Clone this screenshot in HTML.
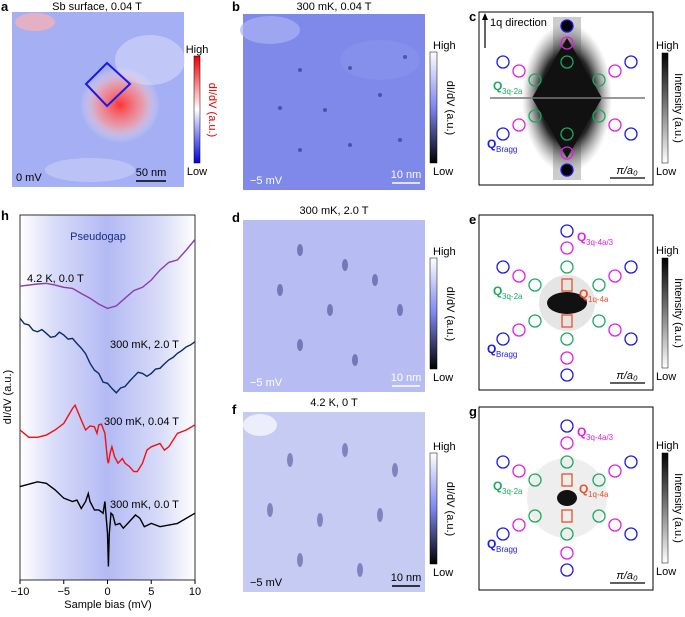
<!DOCTYPE html>
<html><head><meta charset="utf-8"><style>
body{margin:0;background:#fff;width:685px;height:612px;overflow:hidden;font-family:"Liberation Sans",sans-serif}
svg text{font-family:"Liberation Sans",sans-serif}
</style></head><body>
<svg id="fig" width="685" height="612" viewBox="0 0 685 612" xmlns="http://www.w3.org/2000/svg">
<defs>
<linearGradient id="cbRWB" x1="0" y1="0" x2="0" y2="1"><stop offset="0" stop-color="#e00"/><stop offset=".5" stop-color="#fff"/><stop offset="1" stop-color="#00d"/></linearGradient>
<linearGradient id="cbBlue" x1="0" y1="0" x2="0" y2="1"><stop offset="0" stop-color="#fff"/><stop offset=".5" stop-color="#7c86ee"/><stop offset="1" stop-color="#000"/></linearGradient>
<linearGradient id="cbGray" x1="0" y1="0" x2="0" y2="1"><stop offset="0" stop-color="#000"/><stop offset="1" stop-color="#fff"/></linearGradient>
<linearGradient id="hbg" x1="0" y1="0" x2="1" y2="0"><stop offset="0" stop-color="#fff"/><stop offset=".2" stop-color="#d8dbf8"/><stop offset=".5" stop-color="#b3baf4"/><stop offset=".8" stop-color="#d8dbf8"/><stop offset="1" stop-color="#fff"/></linearGradient>
<radialGradient id="redblob" cx=".5" cy=".5" r=".5"><stop offset="0" stop-color="#f33"/><stop offset=".6" stop-color="#f99" stop-opacity=".7"/><stop offset="1" stop-color="#fff" stop-opacity="0"/></radialGradient>
<radialGradient id="fftc" cx=".5" cy=".5" r=".5"><stop offset="0" stop-color="#000"/><stop offset=".6" stop-color="#222"/><stop offset="1" stop-color="#888" stop-opacity="0"/></radialGradient>
</defs>

<g>
<text x="1" y="11" font-size="13" font-weight="bold">a</text>
<text x="97" y="10" font-size="11" text-anchor="middle">Sb surface, 0.04 T</text>
<rect x="12" y="12" width="172" height="175" fill="#8f9cf0"/>
<rect x="12" y="12" width="172" height="175" fill="#fff" opacity=".2"/>
<ellipse cx="35" cy="22" rx="20" ry="9" fill="#f2b0b8" opacity=".8"/>
<ellipse cx="150" cy="60" rx="35" ry="25" fill="#dde2fb" opacity=".5"/>
<ellipse cx="90" cy="170" rx="45" ry="12" fill="#dde2fb" opacity=".4"/>
<ellipse cx="120" cy="105" rx="40" ry="38" fill="url(#redblob)"/>
<polygon points="107,63 130,84 107,106 86,84" fill="none" stroke="#1a1ae6" stroke-width="2"/>
<text x="16" y="181" font-size="11">0 mV</text>
<line x1="136" y1="181" x2="166" y2="181" stroke="#000" stroke-width="1.5"/>
<text x="151" y="176" font-size="11" text-anchor="middle">50 nm</text>
<rect x="194" y="56" width="6" height="107" fill="url(#cbRWB)" stroke="#000" stroke-width=".5"/>
<text x="197" y="53" font-size="11" text-anchor="middle">High</text>
<text x="197" y="175" font-size="11" text-anchor="middle">Low</text>
<text transform="translate(209,110) rotate(90)" font-size="11" fill="#d00" text-anchor="middle">dI/dV (a.u.)</text>
</g>

<g>
<text x="232" y="11" font-size="13" font-weight="bold">b</text>
<text x="334" y="10" font-size="11" text-anchor="middle">300 mK, 0.04 T</text>
<rect x="243" y="14" width="182" height="176" fill="#7e89ea"/>
<ellipse cx="270" cy="30" rx="30" ry="14" fill="#aab2f4" opacity=".7"/>
<ellipse cx="380" cy="60" rx="40" ry="20" fill="#8a94ec" opacity=".6"/>
<g fill="#2a2f7a" opacity=".6"><circle cx="300" cy="70" r="2"/><circle cx="350" cy="68" r="2"/><circle cx="405" cy="57" r="2"/><circle cx="325" cy="110" r="2"/><circle cx="380" cy="95" r="2"/><circle cx="280" cy="108" r="2"/><circle cx="350" cy="145" r="2"/><circle cx="300" cy="150" r="2"/><circle cx="400" cy="140" r="2"/></g>
<text x="250" y="184" font-size="11" fill="#fff">−5 mV</text>
<line x1="392" y1="183" x2="420" y2="183" stroke="#fff" stroke-width="1.5"/>
<text x="406" y="178" font-size="11" fill="#fff" text-anchor="middle">10 nm</text>
<rect x="430" y="52" width="7" height="111" fill="url(#cbBlue)" stroke="#000" stroke-width=".5"/>
<text x="433" y="49" font-size="11">High</text>
<text x="433" y="175" font-size="11">Low</text>
<text transform="translate(447,108) rotate(90)" font-size="11" text-anchor="middle">dI/dV (a.u.)</text>
</g>

<g>
<text x="232" y="222" font-size="13" font-weight="bold">d</text>
<text x="334" y="214" font-size="11" text-anchor="middle">300 mK, 2.0 T</text>
<rect x="243" y="220" width="182" height="172" fill="#b7bdf2"/>
<g fill="#3a408a" opacity=".55"><ellipse cx="300" cy="250" rx="3" ry="6"/><ellipse cx="345" cy="265" rx="3" ry="6"/><ellipse cx="375" cy="280" rx="3" ry="6"/><ellipse cx="280" cy="290" rx="3" ry="6"/><ellipse cx="330" cy="310" rx="3" ry="6"/><ellipse cx="400" cy="310" rx="3" ry="6"/><ellipse cx="300" cy="345" rx="3" ry="6"/><ellipse cx="355" cy="360" rx="3" ry="6"/></g>
<text x="250" y="386" font-size="11" fill="#fff">−5 mV</text>
<line x1="392" y1="386" x2="420" y2="386" stroke="#fff" stroke-width="1.5"/>
<text x="406" y="381" font-size="11" fill="#fff" text-anchor="middle">10 nm</text>
<rect x="430" y="258" width="7" height="111" fill="url(#cbBlue)" stroke="#000" stroke-width=".5"/>
<text x="433" y="255" font-size="11">High</text>
<text x="433" y="381" font-size="11">Low</text>
<text transform="translate(447,314) rotate(90)" font-size="11" text-anchor="middle">dI/dV (a.u.)</text>
</g>

<g>
<text x="232" y="414" font-size="13" font-weight="bold">f</text>
<text x="334" y="406" font-size="11" text-anchor="middle">4.2 K, 0 T</text>
<rect x="243" y="412" width="182" height="180" fill="#c6cbf3"/>
<ellipse cx="260" cy="425" rx="17" ry="11" fill="#eceefc"/>
<g fill="#3a408a" opacity=".5"><ellipse cx="290" cy="460" rx="3" ry="7"/><ellipse cx="345" cy="450" rx="3" ry="7"/><ellipse cx="395" cy="470" rx="3" ry="7"/><ellipse cx="270" cy="510" rx="3" ry="7"/><ellipse cx="320" cy="520" rx="3" ry="7"/><ellipse cx="380" cy="515" rx="3" ry="7"/><ellipse cx="300" cy="560" rx="3" ry="7"/><ellipse cx="360" cy="570" rx="3" ry="7"/></g>
<text x="250" y="586" font-size="11" fill="#000">−5 mV</text>
<line x1="392" y1="586" x2="420" y2="586" stroke="#000" stroke-width="1.5"/>
<text x="406" y="581" font-size="11" text-anchor="middle">10 nm</text>
<rect x="430" y="453" width="7" height="111" fill="url(#cbBlue)" stroke="#000" stroke-width=".5"/>
<text x="433" y="450" font-size="11">High</text>
<text x="433" y="576" font-size="11">Low</text>
<text transform="translate(447,509) rotate(90)" font-size="11" text-anchor="middle">dI/dV (a.u.)</text>
</g>

<g id="fftpanels"></g>

<g>
<text x="1" y="220" font-size="13" font-weight="bold">h</text>
<rect x="20" y="215" width="175" height="365" fill="url(#hbg)"/>
<rect x="20" y="215" width="175" height="365" fill="none" stroke="#000" stroke-width=".8"/>
<text x="98" y="240" font-size="11" fill="#1a2a8a" text-anchor="middle">Pseudogap</text>
<text transform="translate(11,397) rotate(-90)" font-size="11" text-anchor="middle">dI/dV (a.u.)</text>
<text x="108" y="608" font-size="11" text-anchor="middle">Sample bias (mV)</text>
<g id="hcurves"></g><g id="hticks"></g>
<text x="27" y="282" font-size="11">4.2 K, 0.0 T</text>
<text x="110" y="348" font-size="11">300 mK, 2.0 T</text>
<text x="104" y="425" font-size="11">300 mK, 0.04 T</text>
<text x="110" y="508" font-size="11">300 mK, 0.0 T</text>
</g>
</svg>
<script>
const NS="http://www.w3.org/2000/svg";
const xTicks=[-10,-5,0,5,10];
const purpleX=[-10,-8,-7,-6,-5,-4,-3,-2,-1,0,1,2,3,4,5,6,7,8,9,10];
const purpleY=[80.5,81.1,81.3,80.8,80.2,79.9,78.5,77.2,75.6,74.4,75.1,77.2,79.3,80.2,82.2,84.9,87.0,87.7,90.4,93.3];
const navyX=[-10,-9.5,-9,-8.5,-8,-7.5,-7,-6.5,-6,-5.5,-5,-4.5,-4,-3.5,-3,-2.5,-2,-1.5,-1,-0.5,0,0.5,1,1.5,2,2.5,3,3.5,4,4.5,5,5.5,6,6.5,7,7.5,8,8.5,9,9.5,10];
const navyY=[71.7,70.2,69.9,68.4,68.0,68.6,67.6,66.5,66.7,67.9,67.1,66.0,66.2,64.8,63.5,62.0,59.4,57.5,56.6,54.2,53.9,52.5,51.3,52.6,53.0,54.4,55.7,56.9,56.6,55.8,56.6,57.8,58.0,59.2,60.3,61.0,62.1,62.9,63.9,64.4,65.3];
const redX=[-10,-9,-8,-7,-6,-5,-4,-3.7,-3,-2.5,-2,-1.5,-1.2,-1,-0.7,-0.3,0,0.1,0.3,0.5,0.8,1.2,1.7,2,2.5,3,3.4,4,4.5,5,6,6.5,7,8,9,10];
const redY=[41.1,39.1,39.1,39.7,41.1,42.9,47.0,47.9,43.8,41.1,42.2,42.0,40.2,42.5,42.7,40.2,32.9,32.0,34.7,36.5,33.8,32.0,33.3,32.0,31.1,29.7,29.7,32.0,35.6,36.5,37.4,35.6,36.5,40.2,41.1,42.5];
const blackX=[-10,-8,-7,-6,-5,-4,-3.5,-3,-2.5,-2.2,-2,-1.5,-1,-0.5,-0.3,0,0.1,0.2,0.4,0.6,0.9,1.4,1.8,2.5,3.2,3.7,4.2,5,6,8,10];
const blackY=[25.6,26.9,26.5,24.7,22.4,21.5,21.9,19.6,21.5,23.7,21.5,19.2,19.2,18.3,21.5,12.8,3.7,12.8,18.3,17.8,15.1,15.5,14.2,16.0,17.8,16.9,14.6,15.5,14.6,15.5,18.3];
const hx=v=>20+(v+10)/20*175;
const hy=v=>580-v/100*365;
const hc=document.getElementById('hcurves');
function curve(xs,ys,color,name){
  const p=document.createElementNS(NS,'path');
  p.setAttribute('d',xs.map((x,i)=>(i?'L':'M')+hx(x).toFixed(1)+','+hy(ys[i]).toFixed(1)).join(''));
  p.setAttribute('fill','none');p.setAttribute('stroke',color);p.setAttribute('stroke-width','1.4');
  
  
  hc.appendChild(p);
}
curve(purpleX,purpleY,'#8a3db0','curve-4.2k-0t');
curve(navyX,navyY,'#0d2a6a','curve-300mk-2t');
curve(redX,redY,'#f01010','curve-300mk-0.04t');
curve(blackX,blackY,'#000','curve-300mk-0t');
const ht=document.getElementById('hticks');
xTicks.forEach(t=>{
  const l=document.createElementNS(NS,'line');
  l.setAttribute('x1',hx(t));l.setAttribute('x2',hx(t));l.setAttribute('y1',580);l.setAttribute('y2',584);l.setAttribute('stroke','#000');
  
  
  ht.appendChild(l);
  const s=document.createElementNS(NS,'text');
  s.setAttribute('x',hx(t));s.setAttribute('y',595);s.setAttribute('font-size','11');s.setAttribute('text-anchor','middle');
  s.textContent=t<0?'−'+(-t):String(t);
  
  
  ht.appendChild(s);
});
const fp=document.getElementById('fftpanels');
function el(tag,attrs,parent,text){const e=document.createElementNS(NS,tag);for(const k in attrs)e.setAttribute(k,attrs[k]);if(text)e.textContent=text;parent.appendChild(e);return e;}
function fft(letter,y0,h,cx,cy,dense,hasRed,hasM){
  const g=el('g',{},fp);
  
  
  el('text',{x:469,y:y0+9,'font-size':13,'font-weight':'bold'},g,letter);
  el('rect',{x:479,y:y0,width:174,height:h,fill:'#fff',stroke:'#000','stroke-width':1},g);
  if(dense==='c'){
    el('rect',{x:cx-14,y:y0+5,width:28,height:h-10,fill:'#999',opacity:.5},g);
    el('ellipse',{cx:cx,cy:cy,rx:45,ry:75,fill:'url(#fftc)'},g);
    el('polygon',{points:(cx)+','+(cy-60)+' '+(cx+35)+','+cy+' '+cx+','+(cy+60)+' '+(cx-35)+','+cy,fill:'#111'},g);
    el('line',{x1:490,x2:645,y1:cy,y2:cy,stroke:'#777','stroke-width':1.5},g);
  }else if(dense==='e'){
    el('circle',{cx:cx,cy:cy,r:28,fill:'#ccc',opacity:.5},g);
    el('ellipse',{cx:cx,cy:cy,rx:20,ry:11,fill:'#111'},g);
  }else{
    el('circle',{cx:cx,cy:cy,r:40,fill:'#ddd',opacity:.5},g);
    el('ellipse',{cx:cx,cy:cy,rx:10,ry:8,fill:'#111'},g);
  }
  const blue=[[0,-72],[0,72],[-64,-36],[64,-36],[-64,36],[64,36]];
  const mag=[[0,-55],[0,55],[-48,-27],[48,-27],[-48,27],[48,27]];
  const grn=[[0,-36],[0,36],[-32,-18],[32,-18],[-32,18],[32,18]];
  const fillB=dense==='c';
  blue.forEach((o,i)=>el('circle',{cx:cx+o[0],cy:cy+o[1],r:6,fill:(fillB&&i<2)?'#000':'none',stroke:'#1a1ae6','stroke-width':1.3},g));
  mag.forEach(o=>el('circle',{cx:cx+o[0],cy:cy+o[1],r:6,fill:'none',stroke:'#e21ee2','stroke-width':1.3},g));
  grn.forEach(o=>el('circle',{cx:cx+o[0],cy:cy+o[1],r:6,fill:'none',stroke:'#1aa860','stroke-width':1.3},g));
  if(hasRed){[-18,18].forEach(d=>el('rect',{x:cx-5,y:cy+d-6,width:10,height:12,fill:'none',stroke:'#e8502a','stroke-width':1.3},g));
    el('text',{x:cx+12,y:cy-5,'font-size':12,'font-weight':'bold',fill:'#e8502a'},g,'Q');
    el('text',{x:cx+21,y:cy-1,'font-size':8,fill:'#e8502a'},g,'1q-4a');}
  if(hasM){el('text',{x:cx+10,y:cy-62,'font-size':12,'font-weight':'bold',fill:'#e21ee2'},g,'Q');
    el('text',{x:cx+19,y:cy-58,'font-size':8,fill:'#e21ee2'},g,'3q-4a/3');}
  el('text',{x:cx-74,y:cy-8,'font-size':12,'font-weight':'bold',fill:'#1aa860'},g,'Q');
  el('text',{x:cx-65,y:cy-4,'font-size':8,fill:'#1aa860'},g,'3q-2a');
  el('text',{x:cx-80,y:cy+50,'font-size':12,'font-weight':'bold',fill:'#1a1ae6'},g,'Q');
  el('text',{x:cx-71,y:cy+54,'font-size':8,fill:'#1a1ae6'},g,'Bragg');
  el('line',{x1:610,x2:645,y1:y0+h-7,y2:y0+h-7,stroke:'#000','stroke-width':1.3},g);
  el('text',{x:627,y:y0+h-11,'font-size':11,'font-style':'italic','text-anchor':'middle'},g,'π/a₀');
  el('rect',{x:662,y:cy-45,width:6,height:110,fill:'url(#cbGray)',stroke:'#000','stroke-width':.5},g);
  el('text',{x:656,y:cy-49,'font-size':11},g,'High');
  el('text',{x:656,y:cy+77,'font-size':11},g,'Low');
  el('text',{transform:'translate(675,'+(cy+10)+') rotate(90)','font-size':11,'text-anchor':'middle'},g,'Intensity (a.u.)');
  return g;
}
const gc=fft('c',12,173,567,98,'c',false,false);
el('line',{x1:485,x2:485,y1:48,y2:16,stroke:'#000','stroke-width':1.2},gc);
el('polygon',{points:'482,20 485,13 488,20',fill:'#000'},gc);
el('text',{x:490,y:26,'font-size':11},gc,'1q direction');
fft('e',215,175,567,303,'e',true,true);
fft('g',407,183,567,498,'g',true,true);
</script>
</body></html>
